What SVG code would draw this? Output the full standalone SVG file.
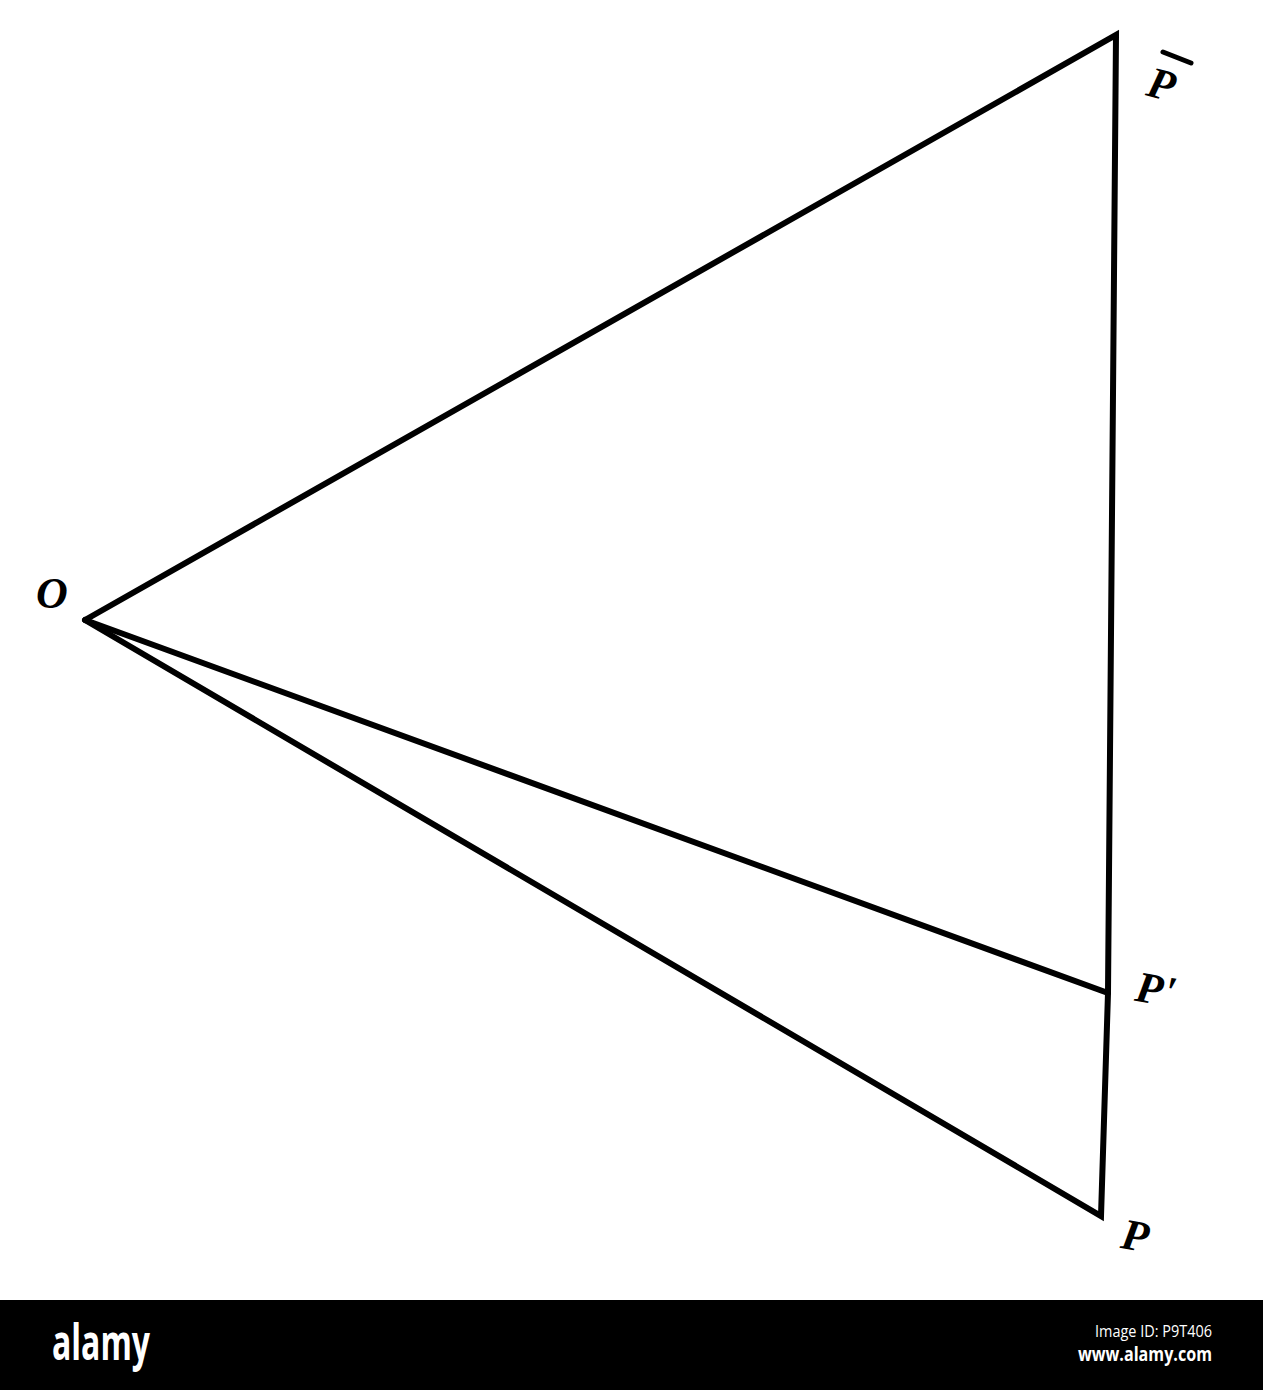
<svg xmlns="http://www.w3.org/2000/svg" width="1263" height="1390" viewBox="0 0 1263 1390">
<style>
.ln{stroke:#000;stroke-width:6;fill:none;stroke-linejoin:miter;stroke-linecap:round}
.lbl{font-family:"Liberation Serif",serif;font-style:italic;font-weight:bold;font-size:44px;fill:#000}
.wm{font-family:"Open Sans","DejaVu Sans",sans-serif;fill:#fff}
</style>
<rect x="0" y="0" width="1263" height="1390" fill="#fff"/>
<g id="connectors">
<polyline class="ln" points="85,620 1116,35 1108,993 1101,1216 85,620"/>
<line class="ln" x1="85" y1="620" x2="1108" y2="993"/>
</g>
<g id="O"><text class="lbl" x="36" y="608">O</text></g>
<g id="Pbar"><text class="lbl" x="1148" y="100" transform="rotate(15 1165 85)">P</text><line x1="1163" y1="52" x2="1191" y2="63" stroke="#000" stroke-width="5" stroke-linecap="round"/></g>
<g id="Pprime"><text class="lbl" x="1136" y="1005" transform="rotate(10 1160 990)">P'</text></g>
<g id="P"><text class="lbl" x="1122" y="1252" transform="rotate(10 1145 1235)">P</text></g>
<g id="watermark">
<rect x="0" y="1300" width="1263" height="90" fill="#000"/>
<text class="wm" x="52" y="1360" font-size="50" font-weight="bold" textLength="98" lengthAdjust="spacingAndGlyphs">alamy</text>
<text class="wm" x="1212" y="1337" font-size="17" text-anchor="end" textLength="117" lengthAdjust="spacingAndGlyphs">Image ID: P9T406</text>
<text class="wm" x="1212" y="1361" font-size="19" font-weight="bold" text-anchor="end" textLength="134" lengthAdjust="spacingAndGlyphs">www.alamy.com</text>
</g>
</svg>
